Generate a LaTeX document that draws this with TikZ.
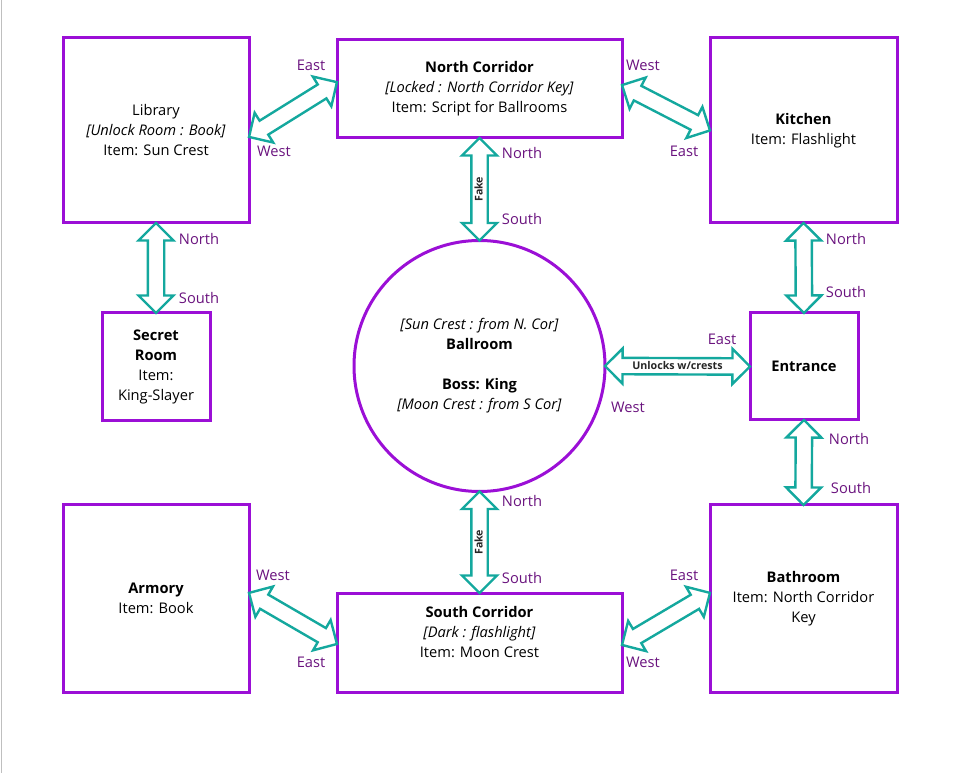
\documentclass[tikz,border=0pt]{standalone}
\usepackage{fontspec}
\setmainfont{Open Sans}
\usetikzlibrary{shapes.arrows,calc}
\definecolor{room}{HTML}{9B0FD6}
\definecolor{arr}{HTML}{14A89E}
\definecolor{lab}{HTML}{6A137E}
\tikzset{
  room/.style={draw=room,line width=2.25pt,align=center,inner sep=0pt,outer sep=0pt,font=\fontsize{11}{15}\selectfont},
  dir/.style={text=lab,font=\fontsize{11}{14}\selectfont,inner sep=0pt},
  darrow/.style={double arrow,draw=arr,line width=1.8pt,fill=white,outer sep=0pt,inner xsep=0pt,inner ysep=1.5pt,
     text height=6pt,text depth=1.5pt,minimum width=25pt,double arrow head extend=7pt,
     font=\fontsize{8}{9}\selectfont\bfseries,text=black!85}
}
\newcommand\darr[3][]{\path let \p1=(#2), \p2=(#3), \n1={atan2(\y2-\y1,\x2-\x1)}, \n2={veclen(\x2-\x1,\y2-\y1)} in
  node[darrow,minimum height=\n2,rotate=\n1] at ($(#2)!0.5!(#3)$) {#1};}
\begin{document}
\begin{tikzpicture}[x=0.75pt,y=-0.75pt]
\useasboundingbox (0,0) rectangle (975,773);
\draw[black!25,line width=0.75pt] (1,0) -- (1,773);
\node[room,minimum width=139.5pt,minimum height=138.75pt] (lib) at (156,130.5) {Library\\\textit{[Unlock Room : Book]}\\Item: Sun Crest};
\node[room,minimum width=213.75pt,minimum height=73.5pt] (nc) at (479.5,89) {\textbf{North Corridor}\\\textit{[Locked : North Corridor Key]}\\Item: Script for Ballrooms};
\node[room,minimum width=140.25pt,minimum height=138.75pt] (kit) at (803.5,130.5) {\textbf{Kitchen}\\Item: Flashlight};
\node[room,minimum width=81pt,minimum height=81pt] (sec) at (156,367) {\textbf{Secret}\\\textbf{Room}\\Item:\\King-Slayer};
\node[room,circle,minimum size=188.25pt] (ball) at (479.5,366) {\textit{[Sun Crest : from N. Cor]}\\\textbf{Ballroom}\\[15pt]\textbf{Boss: King}\\\textit{[Moon Crest : from S Cor]}};
\node[room,minimum width=81pt,minimum height=80.25pt] (ent) at (804,366.5) {\textbf{Entrance}};
\node[room,minimum width=139.5pt,minimum height=140.25pt] (arm) at (156,598.5) {\textbf{Armory}\\Item: Book};
\node[room,minimum width=213.75pt,minimum height=74.25pt,
  label={[align=center,font=\fontsize{11}{15}\selectfont,yshift=7.5pt]center:\textbf{South Corridor}\\\textit{[Dark : flashlight]}\\Item: Moon Crest}] (sc) at (479.5,642.5) {};
\node[room,minimum width=140.25pt,minimum height=140.25pt] (bath) at (803.5,598.5) {\textbf{Bathroom}\\Item: North Corridor\\Key};
% arrow end points
\coordinate (a1) at ($(lib.north east)!0.535!(lib.south east)$);
\coordinate (a2) at ($(nc.north west)!0.43!(nc.south west)$);
\coordinate (b1) at ($(nc.north east)!0.46!(nc.south east)$);
\coordinate (b2) at ($(kit.north west)!0.50!(kit.south west)$);
\coordinate (c1) at ($(arm.north east)!0.47!(arm.south east)$);
\coordinate (c2) at ($(sc.north west)!0.515!(sc.south west)$);
\coordinate (d1) at ($(sc.north east)!0.525!(sc.south east)$);
\coordinate (d2) at ($(bath.north west)!0.47!(bath.south west)$);
\darr{a1}{a2}
\darr{b1}{b2}
\darr[Fake]{ball.north}{nc.south}
\darr{lib.south}{sec.north}
\darr{kit.south}{ent.north}
\darr[Unlocks w/crests]{ball.east}{ent.west}
\darr{ent.south}{bath.north}
\darr[Fake]{sc.north}{ball.south}
\darr{c1}{c2}
\darr{d1}{d2}
% direction labels
\node[dir] (l1) at (311,65) {East};
\node[dir] (l2) at (643,65) {West};
\node[dir] (l3) at (274,151) {West};
\node[dir] (l4) at (684,151) {East};
\node[dir] (l5) at (522,153) {North};
\node[dir] (l6) at (522,219) {South};
\node[dir] (l7) at (199,239) {North};
\node[dir] (l8) at (199,298) {South};
\node[dir] (l9) at (846,239) {North};
\node[dir] (l10) at (846,292) {South};
\node[dir] (l11) at (722,339) {East};
\node[dir] (l12) at (628,407) {West};
\node[dir] (l13) at (849,439) {North};
\node[dir] (l14) at (851,488) {South};
\node[dir] (l15) at (522,501) {North};
\node[dir] (l16) at (522,578) {South};
\node[dir] (l17) at (273,575) {West};
\node[dir] (l18) at (684,575) {East};
\node[dir] (l19) at (311,662) {East};
\node[dir] (l20) at (643,662) {West};
\end{tikzpicture}
\end{document}
